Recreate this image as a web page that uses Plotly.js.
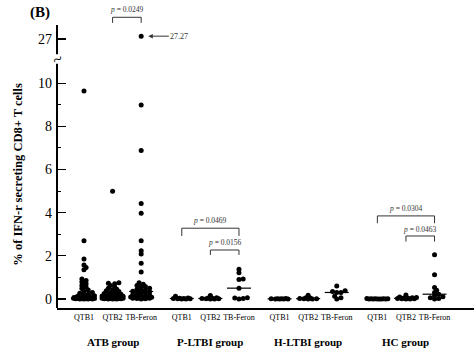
<!DOCTYPE html>
<html><head><meta charset="utf-8">
<script src="https://cdn.plot.ly/plotly-3.0.1.min.js"></script>
<style>html,body{margin:0;padding:0;background:#fff}#chart{width:474px;height:352px}</style>
</head><body><div id="chart"></div>
<script>
// ---- data (% of IFN-r secreting CD8+ T cells) ----
const groups = ['ATB group', 'P-LTBI group', 'H-LTBI group', 'HC group'];
const assays = ['QTB1', 'QTB2', 'TB-Feron'];

const atbQTB1 = [9.64, 2.7, 1.85, 1.57, 1.46, 1.35, 0.93, 0.85, 0.78, 0.7, 0.62, 0.55, 0.48, 0.42, 0.36, 0.3, 0.26, 0.22, 0.18, 0.15, 0.12, 0.1, 0.08, 0.07, 0.06, 0.05, 0.04, 0.04, 0.03, 0.03, 0.02, 0.02, 0.02, 0.01, 0.01, 0.01, 0, 0, 0, 0];
const atbQTB2 = [4.99, 0.75, 0.73, 0.7, 0.62, 0.55, 0.5, 0.45, 0.42, 0.38, 0.35, 0.3, 0.28, 0.25, 0.22, 0.2, 0.18, 0.16, 0.14, 0.12, 0.1, 0.09, 0.08, 0.07, 0.06, 0.05, 0.05, 0.04, 0.04, 0.03, 0.03, 0.02, 0.02, 0.02, 0.01, 0.01, 0.01, 0, 0, 0];
const atbTBFeron = [27.27, 8.99, 6.88, 4.42, 3.97, 2.7, 2.23, 2.08, 1.66, 1.25, 0.75, 0.68, 0.62, 0.58, 0.55, 0.5, 0.45, 0.42, 0.4, 0.36, 0.33, 0.3, 0.28, 0.25, 0.2, 0.18, 0.15, 0.12, 0.1, 0.09, 0.08, 0.07, 0.06, 0.05, 0.04, 0.03, 0.03, 0.02, 0.01, 0];

const pltbiQTB1 = [0.12, 0.04, 0.03, 0.02, 0.02, 0.01, 0.01, 0, 0];
const pltbiQTB2 = [0.16, 0.06, 0.04, 0.03, 0.02, 0.01, 0.01, 0, 0];
const pltbiTBFeron = [1.38, 1.22, 0.93, 0.9, 0.5, 0.06, 0.04, 0.02, 0];

const hltbiQTB1 = [0.02, 0.01, 0.01, 0.01, 0, 0, 0, 0];
const hltbiQTB2 = [0.17, 0.06, 0.04, 0.02, 0.01, 0.01, 0, 0];
const hltbiTBFeron = [0.6, 0.38, 0.35, 0.3, 0.3, 0.12, 0.05, 0];

const hcQTB1 = [0.02, 0.01, 0.01, 0.01, 0.01, 0, 0, 0, 0, 0, 0];
const hcQTB2 = [0.18, 0.09, 0.07, 0.05, 0.04, 0.03, 0.02, 0.01, 0.01, 0, 0];
const hcTBFeron = [2.05, 1.12, 0.53, 0.4, 0.3, 0.22, 0.15, 0.1, 0.05, 0.02, 0];

// p-value comparisons: [group index, assay index from, assay index to, label]
const pGroup = [0, 1, 1, 3, 3];
const pFrom = [1, 0, 1, 0, 1];
const pTo = [2, 2, 2, 2, 2];
const pLabels = ['0.0249', '0.0469', '0.0156', '0.0304', '0.0463'];

const yTickValues = [0, 2, 4, 6, 8, 10, 27];
const maxLabel = '27.27';

// ---- layout helpers ----
const series = [
  [atbQTB1, atbQTB2, atbTBFeron],
  [pltbiQTB1, pltbiQTB2, pltbiTBFeron],
  [hltbiQTB1, hltbiQTB2, hltbiTBFeron],
  [hcQTB1, hcQTB2, hcTBFeron]
];
const GROUP_STEP = 3.42;
const PX_X = 28.6, PX_Y = 21.57;
function pos(g, a) { return g * GROUP_STEP + a; }
// broken axis: values above 10 are compressed into the region above the break
function disp(v) { return v <= 10 ? v : 12.05 + (v - 27) * 0.5; }

function swarm(vals) {
  const order = vals.map((v, i) => i).sort((a, b) => vals[a] - vals[b]);
  const placed = [];
  const off = new Array(vals.length).fill(0);
  const cands = [0];
  for (let k = 1; k <= 5; k++) { cands.push(k * 2.1, -k * 2.1); }
  for (const i of order) {
    const py = disp(vals[i]) * PX_Y;
    let best = 0, bestD = -1;
    for (const c of cands) {
      let dmin = Infinity;
      for (const p of placed) {
        const d = Math.hypot(p[0] - c, p[1] - py);
        if (d < dmin) dmin = d;
      }
      if (dmin >= 3.0) { best = c; break; }
      if (dmin > bestD) { bestD = dmin; best = c; }
    }
    placed.push([best, py]);
    off[i] = best / PX_X;
  }
  return off;
}
function median(arr) {
  const s = arr.slice().sort((a, b) => a - b);
  const n = s.length;
  return n % 2 ? s[(n - 1) / 2] : (s[n / 2 - 1] + s[n / 2]) / 2;
}

const traces = [];
const shapes = [];
const tickvals = [], ticktext = [];
series.forEach((grp, g) => {
  grp.forEach((vals, a) => {
    const off = swarm(vals);
    traces.push({
      type: 'scatter', mode: 'markers',
      x: vals.map((v, i) => pos(g, a) + off[i]),
      y: vals.map(disp),
      marker: { color: '#000', size: 5 },
      hoverinfo: 'y', showlegend: false, cliponaxis: false
    });
    const m = median(vals);
    shapes.push({ type: 'line', xref: 'x', yref: 'y', x0: pos(g, a) - 0.42, x1: pos(g, a) + 0.42, y0: m, y1: m, line: { color: '#000', width: 1.2 } });
    tickvals.push(pos(g, a));
    ticktext.push(assays[a]);
  });
});

// y axis line with break
shapes.push({ type: 'line', xref: 'paper', yref: 'y', x0: 0, x1: 0, y0: -0.42, y1: 10.9, line: { color: '#000', width: 2 } });
shapes.push({ type: 'line', xref: 'paper', yref: 'y', x0: 0, x1: 0, y0: 11.35, y1: 12.7, line: { color: '#000', width: 2 } });

const annotations = [];
// brackets
const bracketY = [13.06, 3.28, 2.27, 3.85, 2.92];
const legY = [12.8, 2.92, 2.04, 3.51, 2.66];
const textY = [13.42, 3.66, 2.61, 4.2, 3.23];
pLabels.forEach((lab, k) => {
  const x0 = pos(pGroup[k], pFrom[k]), x1 = pos(pGroup[k], pTo[k]);
  shapes.push({
    type: 'path', xref: 'x', yref: 'y',
    path: `M${x0},${legY[k]} L${x0},${bracketY[k]} L${x1},${bracketY[k]} L${x1},${legY[k]}`,
    line: { color: '#333', width: 1 }
  });
  annotations.push({
    xref: 'x', yref: 'y', x: (x0 + x1) / 2, y: textY[k], xanchor: 'center', yanchor: 'middle',
    text: '<i>p</i> = ' + lab,
    showarrow: false, font: { family: 'Liberation Serif', size: 7.5, color: '#333' }
  });
});
// max arrow
annotations.push({
  xref: 'x', yref: 'y', x: pos(0, 2) + 0.25, y: disp(27.27), text: maxLabel,
  showarrow: true, ax: 31, ay: 0, arrowhead: 2, arrowsize: 0.9, arrowwidth: 1, arrowcolor: '#333',
  font: { family: 'Liberation Serif', size: 8, color: '#333' }
});
// break mark
annotations.push({
  xref: 'paper', yref: 'y', x: 0, y: 11.12, xanchor: 'center', yanchor: 'middle',
  text: '~', showarrow: false, textangle: -25,
  font: { family: 'Liberation Serif', size: 17, color: '#000' }
});
// group labels
groups.forEach((gname, g) => {
  annotations.push({
    xref: 'x', yref: 'paper', x: pos(g, 1), y: -0.112, xanchor: 'center', yanchor: 'middle',
    text: '<b>' + gname + '</b>',
    showarrow: false, font: { family: 'Liberation Serif', size: 11, color: '#000' }
  });
});
// y title
annotations.push({
  xref: 'paper', yref: 'paper', x: -0.0935, y: 0.44, xanchor: 'center', yanchor: 'middle',
  text: '<b>% of IFN-r secreting CD8+ T cells</b>',
  textangle: -90, showarrow: false, font: { family: 'Liberation Serif', size: 12.5, color: '#000' }
});
// panel label
annotations.push({
  xref: 'paper', yref: 'paper', x: -0.041, y: 0.974, xanchor: 'center', yanchor: 'middle',
  text: '<b>(B)</b>',
  showarrow: false, font: { family: 'Liberation Serif', size: 15, color: '#000' }
});

const layout = {
  width: 474, height: 352,
  margin: { l: 57, r: 0, t: 5, b: 44 },
  paper_bgcolor: '#fff', plot_bgcolor: '#fff',
  showlegend: false,
  font: { family: 'Liberation Serif', color: '#000' },
  xaxis: {
    range: [-0.944, 13.64], showgrid: false, zeroline: false,
    showline: true, linecolor: '#000', linewidth: 2,
    tickmode: 'array', tickvals: tickvals, ticktext: ticktext, tickangle: 0,
    ticks: '', tickfont: { family: 'Liberation Serif', size: 8, color: '#000' }
  },
  yaxis: {
    range: [-0.42, 13.63], showgrid: false, zeroline: false, showline: false,
    tickmode: 'array', tickvals: yTickValues.map(disp), ticktext: yTickValues.map(String),
    ticks: 'inside', ticklen: 9, tickwidth: 1.3, tickcolor: '#000', ticklabelstandoff: 4,
    minor: { tickvals: [1, 3, 5, 7, 9], ticks: 'inside', ticklen: 4, tickwidth: 1, tickcolor: '#000' },
    tickfont: { family: 'Liberation Serif', size: 14, color: '#000' }
  },
  shapes: shapes,
  annotations: annotations
};
Plotly.newPlot('chart', traces, layout, { displayModeBar: false, staticPlot: true });
</script>
</body></html>
